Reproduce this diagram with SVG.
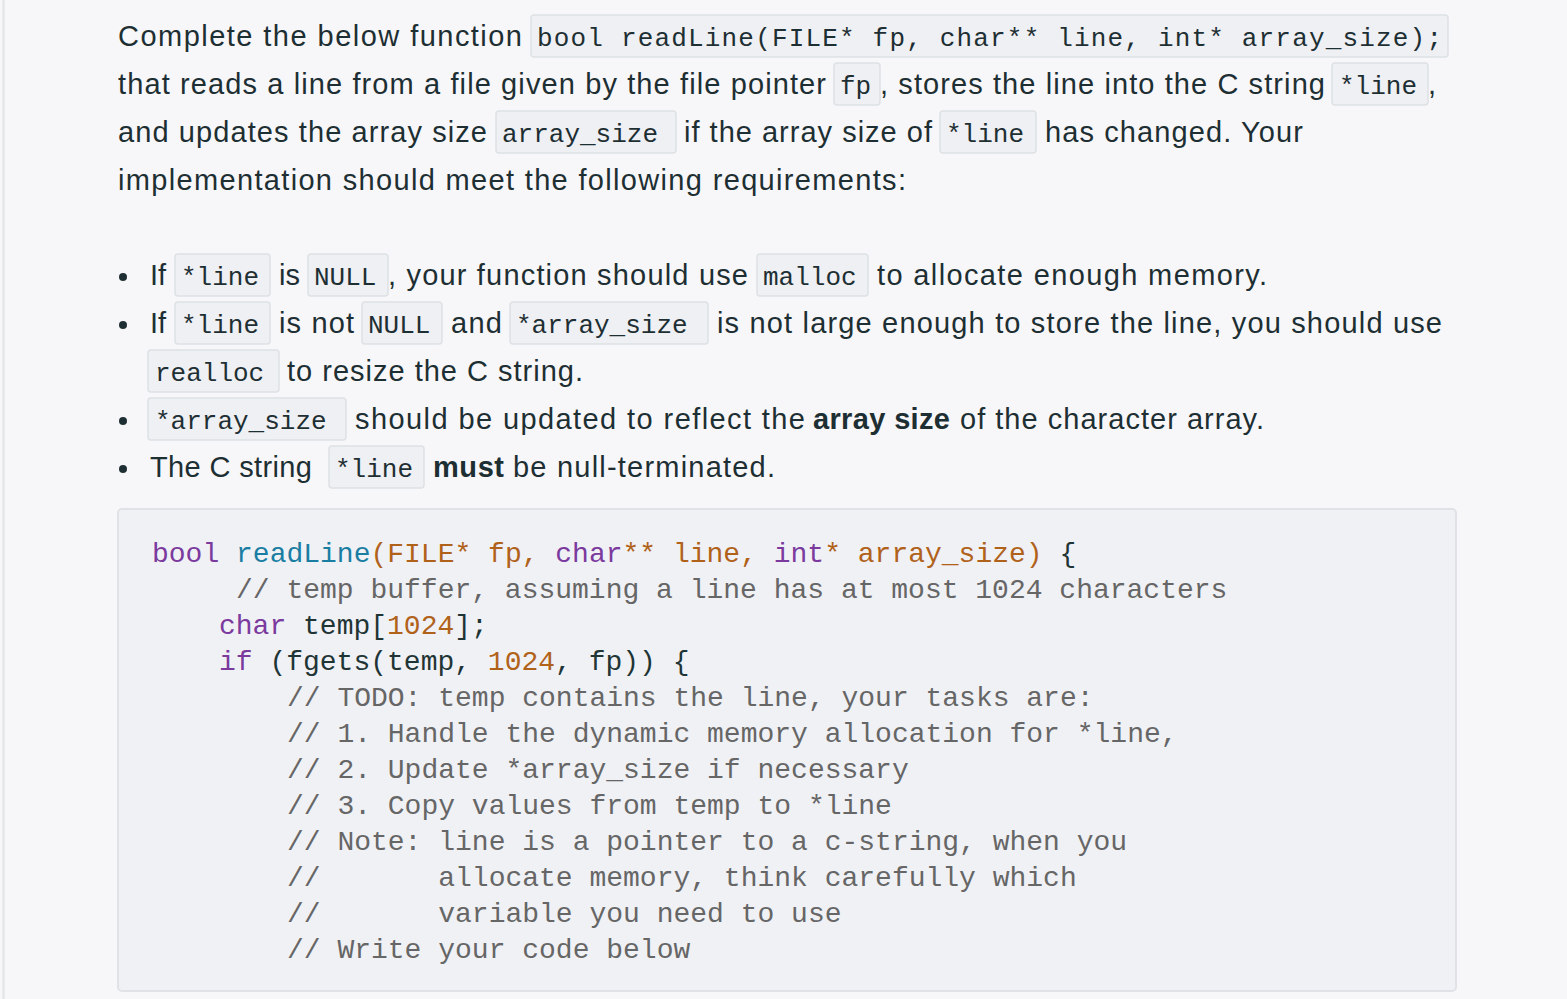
<svg xmlns="http://www.w3.org/2000/svg" width="1567" height="999" viewBox="0 0 1567 999">
<style>
.p{font-family:"Liberation Sans","Noto Sans",sans-serif;font-size:29px;fill:#1e2f33}
.b{font-weight:bold}
.m{font-family:"Liberation Mono",monospace;font-size:26px;fill:#1e2f33}
.k{fill:#eef0f3;stroke:#dde1e5;stroke-width:1.5}
.c{font-family:"Liberation Mono",monospace;font-size:28px;fill:#1f3535;white-space:pre}
.pu{fill:#7b3a9e}.te{fill:#1a7ea3}.or{fill:#b0621b}.gr{fill:#666}
</style>
<rect width="1567" height="999" fill="#f7f7f9"/>
<line x1="3.5" y1="0" x2="3.5" y2="999" stroke="#e1e3e6" stroke-width="2"/>
<g id="intro">
<text class="p" x="118" y="46" textLength="404">Complete the below function</text>
<rect class="k" x="531" y="15" width="917" height="42" rx="3"/>
<text class="m" x="537" y="46" textLength="905">bool readLine(FILE* fp, char** line, int* array_size);</text>
<text class="p" x="118" y="94" textLength="708">that reads a line from a file given by the file pointer</text>
<rect class="k" x="834" y="63" width="46" height="42" rx="3"/>
<text class="m" x="840" y="94">fp</text>
<text class="p" x="880" y="94" textLength="445">, stores the line into the C string</text>
<rect class="k" x="1332" y="63" width="96" height="42" rx="3"/>
<text class="m" x="1339" y="94">*line</text>
<text class="p" x="1428" y="94">,</text>
<text class="p" x="118" y="142" textLength="369">and updates the array size</text>
<rect class="k" x="496" y="111" width="180" height="42" rx="3"/>
<text class="m" x="502" y="142">array_size</text>
<text class="p" x="684" y="142" textLength="248">if the array size of</text>
<rect class="k" x="940" y="111" width="96" height="42" rx="3"/>
<text class="m" x="946" y="142">*line</text>
<text class="p" x="1045" y="142" textLength="258">has changed. Your</text>
<text class="p" x="118" y="190" textLength="788">implementation should meet the following requirements:</text>
</g>
<g id="bullets">
<circle cx="123" cy="277" r="4" fill="#1e2f33"/>
<circle cx="123" cy="325" r="4" fill="#1e2f33"/>
<circle cx="123" cy="421" r="4" fill="#1e2f33"/>
<circle cx="123" cy="469" r="4" fill="#1e2f33"/>
<text class="p" x="150" y="285">If</text>
<rect class="k" x="175" y="254" width="95" height="42" rx="3"/>
<text class="m" x="181" y="285">*line</text>
<text class="p" x="279" y="285">is</text>
<rect class="k" x="308" y="254" width="80" height="42" rx="3"/>
<text class="m" x="314" y="285">NULL</text>
<text class="p" x="388" y="285" textLength="360">, your function should use</text>
<rect class="k" x="757" y="254" width="111" height="42" rx="3"/>
<text class="m" x="763" y="285">malloc</text>
<text class="p" x="877" y="285" textLength="390">to allocate enough memory.</text>

<text class="p" x="150" y="333">If</text>
<rect class="k" x="175" y="302" width="95" height="42" rx="3"/>
<text class="m" x="181" y="333">*line</text>
<text class="p" x="279" y="333" textLength="75">is not</text>
<rect class="k" x="362" y="302" width="80" height="42" rx="3"/>
<text class="m" x="368" y="333">NULL</text>
<text class="p" x="451" y="333" textLength="51">and</text>
<rect class="k" x="510" y="302" width="198" height="42" rx="3"/>
<text class="m" x="516" y="333">*array_size</text>
<text class="p" x="717" y="333" textLength="725">is not large enough to store the line, you should use</text>
<rect class="k" x="148" y="350" width="131" height="42" rx="3"/>
<text class="m" x="155" y="381">realloc</text>
<text class="p" x="287" y="381" textLength="296">to resize the C string.</text>

<rect class="k" x="148" y="398" width="198" height="42" rx="3"/>
<text class="m" x="155" y="429">*array_size</text>
<text class="p" x="355" y="429" textLength="450">should be updated to reflect the</text>
<text class="p b" x="813" y="429" textLength="137">array size</text>
<text class="p" x="960" y="429" textLength="304">of the character array.</text>

<text class="p" x="150" y="477" textLength="162">The C string</text>
<rect class="k" x="329" y="446" width="95" height="42" rx="3"/>
<text class="m" x="335" y="477">*line</text>
<text class="p b" x="433" y="477" textLength="71">must</text>
<text class="p" x="513" y="477" textLength="262">be null-terminated.</text>
</g>
<g id="code">
<rect x="118" y="509" width="1338" height="482" rx="4" fill="#f0f1f5" stroke="#e0e2e7" stroke-width="2"/>
<text class="c" x="152" y="562"><tspan class="pu">bool</tspan> <tspan class="te">readLine</tspan><tspan class="or">(FILE* fp, </tspan><tspan class="pu">char</tspan><tspan class="or">** line, </tspan><tspan class="pu">int</tspan><tspan class="or">* array_size)</tspan> {</text>
<text class="c gr" x="236" y="598">// temp buffer, assuming a line has at most 1024 characters</text>
<text class="c" x="219" y="634"><tspan class="pu">char</tspan> temp[<tspan class="or">1024</tspan>];</text>
<text class="c" x="219" y="670"><tspan class="pu">if</tspan> (fgets(temp, <tspan class="or">1024</tspan>, fp)) {</text>
<text class="c gr" x="287" y="706">// TODO: temp contains the line, your tasks are:</text>
<text class="c gr" x="287" y="742">// 1. Handle the dynamic memory allocation for *line,</text>
<text class="c gr" x="287" y="778">// 2. Update *array_size if necessary</text>
<text class="c gr" x="287" y="814">// 3. Copy values from temp to *line</text>
<text class="c gr" x="287" y="850">// Note: line is a pointer to a c-string, when you</text>
<text class="c gr" x="287" y="886">//       allocate memory, think carefully which</text>
<text class="c gr" x="287" y="922">//       variable you need to use</text>
<text class="c gr" x="287" y="958">// Write your code below</text>
</g>
</svg>
